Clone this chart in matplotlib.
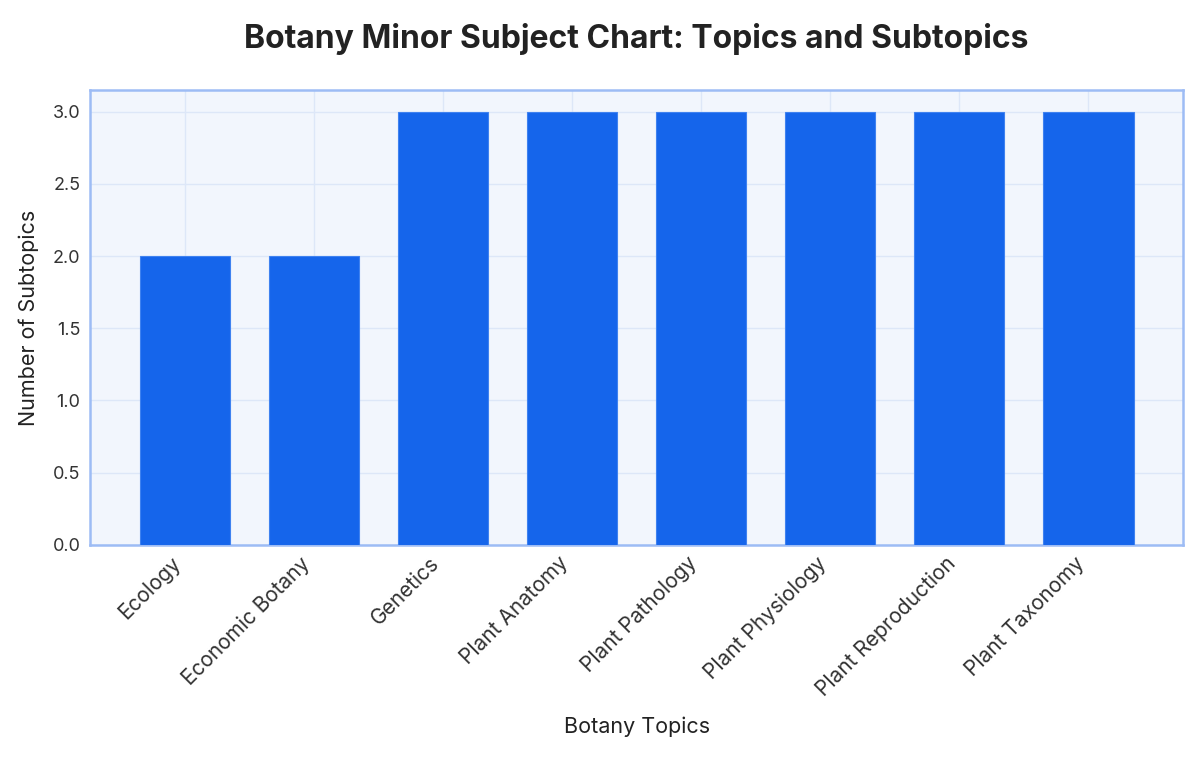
import matplotlib
matplotlib.use('Agg')
import matplotlib.pyplot as plt
from matplotlib.transforms import ScaledTranslation

topics = ['Ecology', 'Economic Botany', 'Genetics', 'Plant Anatomy',
          'Plant Pathology', 'Plant Physiology', 'Plant Reproduction', 'Plant Taxonomy']
subtopic_counts = [2, 2, 3, 3, 3, 3, 3, 3]

plt.rcParams['font.family'] = ['Inter', 'DejaVu Sans']

fig, ax = plt.subplots(figsize=(12, 7.64), dpi=100)
fig.subplots_adjust(left=0.075, right=0.986, top=0.882, bottom=0.287)

ax.set_facecolor('#F2F6FD')
ax.bar(range(len(topics)), subtopic_counts, width=0.7, color='#1565EB',
       edgecolor='#3F82F0', linewidth=0.8, zorder=3)

ax.set_xticks(range(len(topics)))
ax.set_xticklabels(topics, rotation=45, ha='right', rotation_mode='anchor',
                   fontsize=15, color='#333333')
ax.tick_params(axis='y', labelsize=13, labelcolor='#333333', length=0, pad=7)
ax.tick_params(axis='x', length=0, pad=6)
# nudge rotated labels a little to the left
shift = ScaledTranslation(-10 / 72, 0, fig.dpi_scale_trans)
for lbl in ax.get_xticklabels():
    lbl.set_transform(lbl.get_transform() + shift)

ax.grid(True, color='#DDE7F8', linewidth=1, zorder=0)
ax.set_axisbelow(True)
for s in ax.spines.values():
    s.set_color('#9DBCF5')
    s.set_linewidth(1.8)

ax.set_xlabel('Botany Topics', fontsize=15.5, color='#222222', labelpad=12)
ax.set_ylabel('Number of Subtopics', fontsize=15.5, color='#222222', labelpad=10)
ax.set_title('Botany Minor Subject Chart: Topics and Subtopics',
             fontsize=23, fontweight='bold', color='#222222', pad=30)

fig.savefig('out.png')
